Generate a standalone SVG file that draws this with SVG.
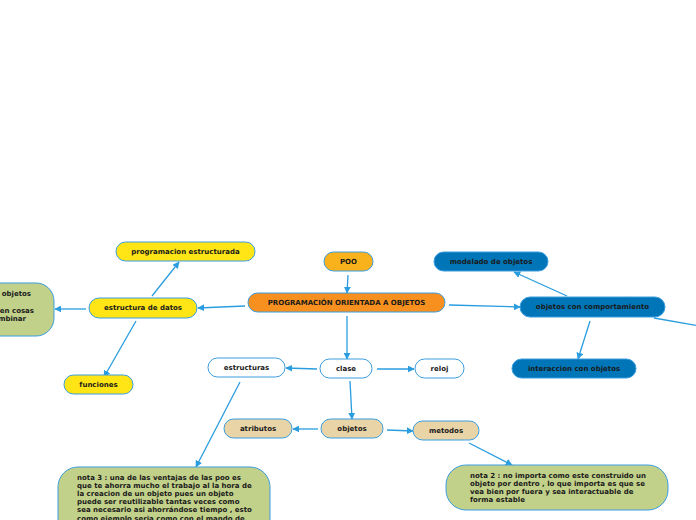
<svg xmlns="http://www.w3.org/2000/svg" width="696" height="520" viewBox="0 0 696 520">
<style>
text{font-family:"DejaVu Sans","Verdana",sans-serif;font-weight:bold;font-size:7px;fill:#1a1a1a}
.c{text-anchor:middle;dominant-baseline:central}
.n{stroke:#3a9de0;stroke-width:1}
.y{fill:#ffe516}.o{fill:#f7901e}.p{fill:#f9b21b}.b{fill:#0076b8}.w{fill:#ffffff}.t{fill:#e9d4a7}.g{fill:#c2d18a}
.e{fill:none;stroke:#2a9de0;stroke-width:1.3}
</style>
<defs>
<marker id="a" viewBox="0 0 10 10" refX="9" refY="5" markerWidth="7" markerHeight="7" markerUnits="userSpaceOnUse" orient="auto">
<path d="M0,0 L10,5 L0,10 z" fill="#2a9de0"/>
</marker>
</defs>
<rect width="696" height="520" fill="#ffffff"/>
<g id="connectors">
<line class="e" x1="348" y1="275" x2="347" y2="293" marker-end="url(#a)"/>
<line class="e" x1="245" y1="306" x2="198" y2="308" marker-end="url(#a)"/>
<line class="e" x1="152" y1="296" x2="179" y2="262" marker-end="url(#a)"/>
<line class="e" x1="86" y1="309" x2="55" y2="309" marker-end="url(#a)"/>
<line class="e" x1="136" y1="321" x2="104" y2="377" marker-end="url(#a)"/>
<line class="e" x1="449" y1="305" x2="520" y2="307" marker-end="url(#a)"/>
<line class="e" x1="567" y1="296" x2="514" y2="272" marker-end="url(#a)"/>
<line class="e" x1="590" y1="321" x2="578" y2="359" marker-end="url(#a)"/>
<line class="e" x1="654" y1="318" x2="700" y2="326"/>
<line class="e" x1="347" y1="316" x2="347" y2="359" marker-end="url(#a)"/>
<line class="e" x1="317" y1="369" x2="286" y2="368" marker-end="url(#a)"/>
<line class="e" x1="377" y1="369" x2="414" y2="369" marker-end="url(#a)"/>
<line class="e" x1="350" y1="381" x2="352" y2="419" marker-end="url(#a)"/>
<line class="e" x1="240" y1="382" x2="196" y2="467" marker-end="url(#a)"/>
<line class="e" x1="318" y1="429" x2="293" y2="429" marker-end="url(#a)"/>
<line class="e" x1="387" y1="430" x2="413" y2="431" marker-end="url(#a)"/>
<line class="e" x1="469" y1="443" x2="512" y2="465" marker-end="url(#a)"/>
</g>
<g id="poo"><rect class="n p" x="324" y="252" width="49" height="19" rx="9.5"/><text class="c" x="348.5" y="261.5">POO</text></g>
<g id="prog"><rect class="n o" x="248" y="293" width="197" height="19" rx="9.5"/><text class="c" x="346.5" y="302.5">PROGRAMACIÓN  ORIENTADA A OBJETOS</text></g>
<g id="progest"><rect class="n y" x="116" y="242" width="139" height="19" rx="9.5"/><text class="c" x="185.5" y="251.5">programacion estructurada</text></g>
<g id="estdatos"><rect class="n y" x="89" y="298" width="108" height="20" rx="10"/><text class="c" x="143" y="308">estructura de datos</text></g>
<g id="funciones"><rect class="n y" x="64" y="375" width="69" height="19" rx="9.5"/><text class="c" x="98.5" y="384.5">funciones</text></g>
<g id="nota1"><rect class="n g" x="-40" y="283" width="94" height="53" rx="18"/>
<text x="31" y="296" text-anchor="end">objetos</text>
<text x="34" y="313" text-anchor="end">en cosas</text>
<text x="26" y="321" text-anchor="end">mbinar</text></g>
<g id="modelado"><rect class="n b" x="434" y="252" width="114" height="19" rx="9.5"/><text class="c" x="491" y="261.5">modelado de objetos</text></g>
<g id="objcomp"><rect class="n b" x="520" y="297" width="145" height="20" rx="10"/><text class="c" x="592.5" y="307">objetos con comportamiento</text></g>
<g id="interaccion"><rect class="n b" x="512" y="359" width="124" height="19" rx="9.5"/><text class="c" x="574" y="368.5">interaccion con objetos</text></g>
<g id="estructuras"><rect class="n w" x="208" y="358" width="77" height="19" rx="9.5"/><text class="c" x="246.5" y="367.5">estructuras</text></g>
<g id="clase"><rect class="n w" x="320" y="359" width="52" height="19" rx="9.5"/><text class="c" x="346" y="368.5">clase</text></g>
<g id="reloj"><rect class="n w" x="415" y="359" width="49" height="19" rx="9.5"/><text class="c" x="439.5" y="368.5">reloj</text></g>
<g id="objetos"><rect class="n t" x="321" y="419" width="62" height="19" rx="9.5"/><text class="c" x="352" y="428.5">objetos</text></g>
<g id="atributos"><rect class="n t" x="224" y="419" width="68" height="19" rx="9.5"/><text class="c" x="258" y="428.5">atributos</text></g>
<g id="metodos"><rect class="n t" x="413" y="421" width="66" height="19" rx="9.5"/><text class="c" x="446" y="431">metodos</text></g>
<g id="nota3"><rect class="n g" x="58" y="467" width="212" height="80" rx="20"/>
<text x="77" y="480">nota 3 : una de las ventajas de las poo es</text>
<text x="77" y="488">que te ahorra mucho el trabajo al la hora de</text>
<text x="77" y="496">la creacion de un objeto pues un objeto</text>
<text x="77" y="504">puede ser reutilizable tantas veces como</text>
<text x="77" y="512">sea necesario asi ahorrándose tiempo , esto</text>
<text x="77" y="520.5">como ejemplo seria como con el mando de</text></g>
<g id="nota2"><rect class="n g" x="446" y="465" width="222" height="45" rx="20"/>
<text x="470" y="478">nota 2 : no importa como este construido un</text>
<text x="470" y="486">objeto por dentro , lo que importa es que se</text>
<text x="470" y="494">vea bien por fuera y sea interactuable de</text>
<text x="470" y="502">forma estable</text></g>
</svg>
